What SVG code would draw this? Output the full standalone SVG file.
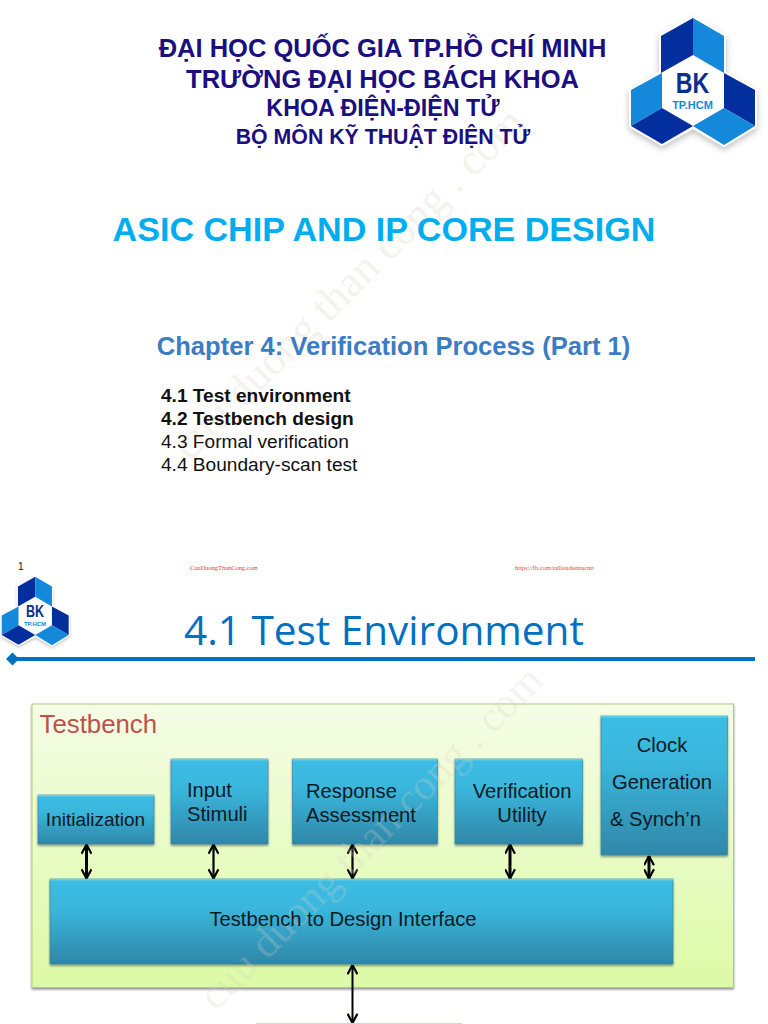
<svg xmlns="http://www.w3.org/2000/svg" width="768" height="1024" viewBox="0 0 768 1024">
<style>
text{font-family:"Liberation Sans",Arial,sans-serif}
.h{font-weight:bold;fill:#1b0f7f;text-anchor:middle}
.t{font-size:20.200px;fill:#0b1a24}
.m{text-anchor:middle}
.b{fill:url(#g);stroke:#2c7f9e;stroke-width:.6;filter:url(#s)}
.bv{fill:#5fd0ee}
.wm{font-family:"Liberation Serif",serif;font-size:44px;fill:#f5f2ee}
.a{stroke:#000;fill:none;marker-start:url(#ah);marker-end:url(#ah)}
.d{fill:#032f9e}.l{fill:#1489dc}
.li{font-size:19.100px;fill:#111}
</style>
<defs>
<linearGradient id="g" x1="0" y1="0" x2="0" y2="1"><stop offset="0" stop-color="#3cbde4"/><stop offset=".35" stop-color="#3ab6dc"/><stop offset="1" stop-color="#2f87a8"/></linearGradient>
<linearGradient id="bg" x1="0" y1="0" x2="0" y2="1"><stop offset="0" stop-color="#f5fde6"/><stop offset="1" stop-color="#dcfaa6"/></linearGradient>
<filter id="s" x="-10%" y="-10%" width="120%" height="120%"><feDropShadow dx="0" dy="1.500" stdDeviation="1.200" flood-color="#000" flood-opacity=".45"/></filter>
<filter id="ls" x="-10%" y="-10%" width="120%" height="125%"><feDropShadow dx="0" dy="3" stdDeviation="3" flood-color="#000" flood-opacity=".25"/></filter>
<marker id="ah" viewBox="0 0 10 10" refX="9.500" refY="5" markerUnits="userSpaceOnUse" markerWidth="11" markerHeight="11" orient="auto-start-reverse"><path d="M9.500 5L1 .5M9.500 5L1 9.500" stroke="#000" stroke-width="2" fill="none"/></marker>
<g id="logo">
<path d="M693 16L726 35V72L757 90V127L724 147L693 129L662 146L629 127V90L659 72V35Z" fill="#fff" filter="url(#ls)"/>
<path class="d" d="M693 18L661 36V73L693 55Z"/><path class="l" d="M693 18L724 36V73L693 55Z"/>
<path class="d" d="M724 73L755 90V126L724 108Z"/><path class="l" d="M724 108L755 126L724 145L693 126Z"/>
<path class="l" d="M662 73L631 90V126L662 108Z"/><path class="d" d="M662 108L631 126L662 144L693 126Z"/>
<text transform="translate(692.500 93) scale(.8 1)" text-anchor="middle" font-size="29" font-weight="bold" fill="#0a2f8f">BK</text>
<text x="692.500" y="108.500" text-anchor="middle" font-size="11" font-weight="bold" fill="#1489dc">TP.HCM</text>
</g>
</defs>
<rect width="768" height="1024" fill="#fff"/>
<text class="wm" transform="translate(190 462) rotate(-45)">cuu duong than cong . com</text>

<g id="slide1-title">
<text class="h" x="382.500" y="57" font-size="25.500">ĐẠI HỌC QUỐC GIA TP.HỒ CHÍ MINH</text>
<text class="h" x="382.500" y="88" font-size="25.500">TRƯỜNG ĐẠI HỌC BÁCH KHOA</text>
<text class="h" x="383" y="116" font-size="23.300">KHOA ĐIỆN-ĐIỆN TỬ</text>
<text class="h" x="383" y="144" font-size="21.300">BỘ MÔN KỸ THUẬT ĐIỆN TỬ</text>
<text x="384" y="241" text-anchor="middle" font-size="34.100" font-weight="bold" fill="#00aeef">ASIC CHIP AND IP CORE DESIGN</text>
<text x="393.500" y="355" text-anchor="middle" font-size="25.600" font-weight="bold" fill="#3b7cc4">Chapter 4: Verification Process (Part 1)</text>
</g>
<g id="slide1-logo"><use href="#logo"/></g>
<g id="slide1-list">
<text class="li" x="161" y="402" font-weight="bold" fill="#000">4.1 Test environment</text>
<text class="li" x="161" y="425" font-weight="bold" fill="#000">4.2 Testbench design</text>
<text class="li" x="161" y="448">4.3 Formal verification</text>
<text class="li" x="161" y="471">4.4 Boundary-scan test</text>
</g>
<g id="footer">
<text x="18" y="570" font-size="10" fill="#111">1</text>
<text x="190" y="570" font-size="6.400" fill="#f03a3a" style="font-family:'Liberation Serif',serif">CuuDuongThanCong.com</text>
<text x="515" y="570" font-size="6.400" fill="#f03a3a" style="font-family:'Liberation Serif',serif">https://fb.com/tailieudientucntt</text>
</g>

<g id="slide2-logo"><use href="#logo" transform="translate(-339 567) scale(.54)"/></g>
<g id="slide2-title">
<text x="184" y="645" font-size="40.500" fill="#0070c0" style="font-family:'Open Sans',sans-serif">4.1 Test Environment</text>
<rect x="14" y="657" width="741" height="4" fill="#0070c0"/>
<path d="M12.500 652.500L19 659L12.500 665.500L6 659Z" fill="#0070c0"/>
</g>

<g id="testbench">
<rect x="32" y="704" width="701.500" height="283.500" fill="url(#bg)" stroke="#b0cc7a" filter="url(#s)"/>
<text x="39.500" y="733" font-size="25.800" fill="#c0504d">Testbench</text>
</g>

<g id="connectors">
<path class="a" stroke-width="3" d="M86.500 844.500V878.500"/>
<path class="a" stroke-width="2.200" d="M213.500 844.500V878.500"/>
<path class="a" stroke-width="2.200" d="M352.500 844.500V878.500"/>
<path class="a" stroke-width="3" d="M510 844.500V878.500"/>
<path class="a" stroke-width="3" d="M649 856V878.500"/>
<path class="a" stroke-width="2" d="M352.500 965V1023"/>
</g>

<g id="n-init"><rect class="b" x="38" y="795" width="116" height="49"/><rect class="bv" x="38" y="795" width="116" height="1.500"/></g>
<g id="n-input"><rect class="b" x="171" y="759" width="97" height="85"/><rect class="bv" x="171" y="759" width="97" height="1.500"/></g>
<g id="n-response"><rect class="b" x="292.500" y="759" width="145" height="85"/><rect class="bv" x="292.500" y="759" width="145" height="1.500"/></g>
<g id="n-verif"><rect class="b" x="455" y="759" width="127.500" height="85"/><rect class="bv" x="455" y="759" width="127.500" height="1.500"/></g>
<g id="n-clock"><rect class="b" x="601" y="716" width="126.500" height="139"/><rect class="bv" x="601" y="716" width="126.500" height="1.500"/></g>
<g id="n-iface"><rect class="b" x="50" y="879" width="623" height="85"/><rect class="bv" x="50" y="879" width="623" height="1.500"/></g>
<g id="n-design"><rect x="256" y="1023" width="206" height="1" fill="#d9d6cc"/></g>

<text class="wm" transform="translate(216 1012) rotate(-45)" style="fill:#d9d0c6;font-size:43px" opacity=".25">cuu duong than cong . com</text>

<g id="labels">
<text class="t m" x="95.500" y="826" style="font-size:19px">Initialization</text>
<text class="t" x="187" y="797">Input</text><text class="t" x="187" y="821">Stimuli</text>
<text class="t" x="306" y="798">Response</text><text class="t" x="306" y="822">Assessment</text>
<text class="t m" x="522" y="798">Verification</text><text class="t m" x="522" y="822">Utility</text>
<text class="t m" x="662" y="752">Clock</text><text class="t m" x="662" y="789">Generation</text><text class="t" x="610" y="826">&amp; Synch’n</text>
<text class="t m" x="343" y="926">Testbench to Design Interface</text>
</g>
</svg>
